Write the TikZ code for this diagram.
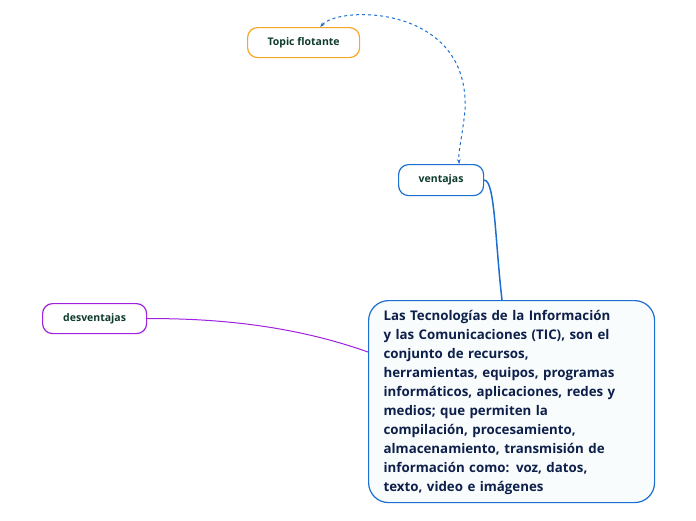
\documentclass[tikz,border=0pt]{standalone}
\usepackage{fontspec}
\setmainfont{Open Sans}
\usetikzlibrary{arrows.meta}
\definecolor{blueb}{HTML}{1C6FD0}
\definecolor{purp}{HTML}{A020E0}
\definecolor{oran}{HTML}{F5A623}
\definecolor{txtg}{HTML}{0E3B2E}
\definecolor{navy}{HTML}{0D1F4A}
\tikzset{
  topic/.style={draw, rounded corners=10pt, line width=1.2pt, fill=white, text=txtg,
    font=\bfseries\fontsize{10.5}{12}\selectfont, inner sep=0pt, anchor=north west},
}
\begin{document}
\begin{tikzpicture}[x=1pt,y=-1pt]
\useasboundingbox (0,0) rectangle (696,520);
\node[topic, draw=blueb, minimum width=286pt, minimum height=202pt, rounded corners=20pt,
  fill={rgb,255:red,248;green,252;blue,252}, text=navy, align=left, text width=276pt,
  font=\bfseries\fontsize{13.3}{19}\selectfont] (main) at (368,300)
  {\hspace*{10pt}\begin{minipage}{266pt}\vspace*{2pt}Las Tecnologías de la Información\\y las Comunicaciones (TIC), son el\\conjunto de recursos,\\herramientas, equipos, programas\\informáticos, aplicaciones, redes y\\medios; que permiten la\\compilación, procesamiento,\\almacenamiento, transmisión de\\información como: voz, datos,\\texto, video e imágenes\end{minipage}};
\node[topic, draw=blueb, minimum width=85pt, minimum height=31pt] (v) at (398,164) {ventajas};
\node[topic, draw=purp, minimum width=104pt, minimum height=30pt] (d) at (42,303) {desventajas};
\node[topic, draw=oran, minimum width=112pt, minimum height=30pt] (t) at (247,27) {Topic flotante};
\coordinate (m1) at ([xshift=134pt]main.north west);
\draw[blueb, line width=1.5pt] (m1) .. controls (495,240) and (495,180) .. (v.east);
\draw[purp, line width=1pt] (d.east) .. controls (250,318) and (320,335) .. ([yshift=-52pt]main.north west);
\draw[blueb, dashed, line width=1pt, {Stealth[length=5pt]}-{Stealth[length=5pt]}]
  ([xshift=-40pt]t.north east) .. controls (340,5) and (470,5) .. (465,110) .. controls (462,140) and (458,150) .. ([xshift=-25pt]v.north east);
\end{tikzpicture}
\end{document}
